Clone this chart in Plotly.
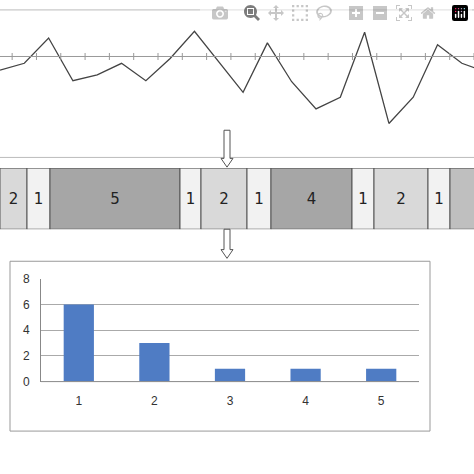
import plotly.graph_objects as go

# top signal (relative to centre line)
sig_x = list(range(21))
sig_y = [-14, -7, 19, -25, -19, -7, -25, -2, 26, -6, -37, 14, -26, -54, -42, 25, -69, -42, 12, -7, -16]

# strip of run-length blocks
blk_w = [27, 23, 130, 21, 46, 24, 81, 22, 54, 22, 30]
blk_lbl = ["2", "1", "5", "1", "2", "1", "4", "1", "2", "1", ""]
blk_col = ["#d9d9d9", "#f2f2f2", "#a6a6a6", "#f2f2f2", "#d9d9d9", "#f2f2f2",
           "#a6a6a6", "#f2f2f2", "#d9d9d9", "#f2f2f2", "#bfbfbf"]

# histogram of run lengths
cats = ["1", "2", "3", "4", "5"]
counts = [6, 3, 1, 1, 1]

W = H = 474
def py(p):  # pixel row -> paper y
    return 1 - p / H

fig = go.Figure()

fig.add_trace(go.Scatter(x=sig_x, y=sig_y, mode="lines", line=dict(color="#444", width=1.3),
                         xaxis="x", yaxis="y", showlegend=False))
fig.add_trace(go.Scatter(x=[i + 0.5 for i in range(-1, 21)], y=[0] * 22, mode="markers",
                         marker=dict(symbol="line-ns", size=5, line=dict(color="#999", width=1)),
                         xaxis="x", yaxis="y", showlegend=False))

base = [sum(blk_w[:i]) for i in range(len(blk_w))]
fig.add_trace(go.Bar(y=[0] * len(blk_w), x=blk_w, base=base, orientation="h", width=1,
                     marker=dict(color=blk_col, line=dict(color="#555", width=1)),
                     text=blk_lbl, textposition="inside", insidetextanchor="middle",
                     textfont=dict(size=15, color="#222", family="DejaVu Sans"),
                     xaxis="x2", yaxis="y2", showlegend=False))

fig.add_trace(go.Bar(x=cats, y=counts, width=0.4, marker=dict(color="#4f7cc4", line=dict(width=0)),
                     xaxis="x3", yaxis="y3", showlegend=False))

fig.update_layout(
    width=W, height=H, margin=dict(l=0, r=0, t=0, b=0),
    paper_bgcolor="white", plot_bgcolor="white",
    xaxis=dict(domain=[0, 1], range=[0, 19.5], visible=False),
    yaxis=dict(domain=[py(155), py(3)], range=[-104, 48], visible=False),
    xaxis2=dict(domain=[0, 1], range=[0, 474], visible=False),
    yaxis2=dict(domain=[py(229), py(166)], range=[-0.5, 0.5], visible=False),
    xaxis3=dict(domain=[41 / W, 419 / W], anchor="y3", showline=False, ticks="",
                ticklabelstandoff=10,
                tickfont=dict(size=12, color="#333", family="Liberation Sans")),
    yaxis3=dict(domain=[py(386), py(280)], anchor="x3", range=[0, 8], dtick=2,
                showgrid=True, gridcolor="#aaa", showline=True, linecolor="#888",
                ticklabelstandoff=8,
                tickfont=dict(size=12, color="#333", family="Liberation Sans")),
    font=dict(family="Liberation Sans"),
)

shapes = [
    dict(type="line", xref="paper", yref="paper", x0=0, x1=1, y0=py(3), y1=py(3), line=dict(color="#bbb", width=1)),
    dict(type="line", xref="paper", yref="paper", x0=0, x1=1, y0=py(155), y1=py(155), line=dict(color="#bbb", width=1)),
    dict(type="line", xref="paper", yref="paper", x0=0, x1=1, y0=py(51), y1=py(51), line=dict(color="#999", width=1)),
    dict(type="rect", xref="paper", yref="paper", x0=10 / W, x1=430 / W, y0=py(437), y1=py(262),
         line=dict(color="#999", width=1)),
    dict(type="line", xref="paper", yref="paper", x0=41 / W, x1=419 / W, y0=py(386), y1=py(386), line=dict(color="#888", width=1)),
]
# arrows
for top, bot in [(127, 165), (229, 259)]:
    xc = 227 / W
    shapes.append(dict(type="path", xref="paper", yref="paper",
                       path=(f"M {xc-3/W} {py(top)} L {xc+3/W} {py(top)} L {xc+3/W} {py(bot-9)} "
                             f"L {xc+6/W} {py(bot-9)} L {xc} {py(bot)} L {xc-6/W} {py(bot-9)} "
                             f"L {xc-3/W} {py(bot-9)} Z"),
                       fillcolor="white", line=dict(color="#555", width=1), layer="above"))
fig.update_layout(shapes=shapes)

fig.write_html("out.html", post_script="document.body.style.margin='0';document.body.style.overflow='hidden';")
